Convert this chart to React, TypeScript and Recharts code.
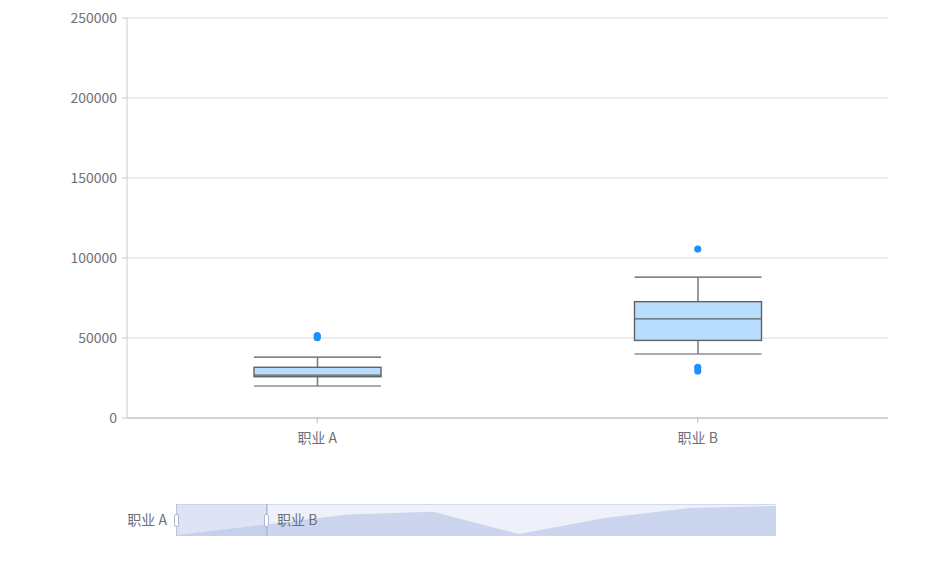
import React from "react"
import {
  Area,
  AreaChart,
  Bar,
  CartesianGrid,
  ComposedChart,
  ReferenceArea,
  ReferenceLine,
  Scatter,
  XAxis,
  YAxis,
} from "recharts"

const categories = ["职业 A", "职业 B"]
const lowWhisker = [20000, 40000]
const lowerQuartile = [25800, 48500]
const medians = [26800, 62000]
const upperQuartile = [31700, 72700]
const highWhisker = [38000, 88000]

const outlierCategory = ["职业 A", "职业 A", "职业 B", "职业 B", "职业 B"]
const outlierValues = [51500, 50200, 105600, 31700, 29400]

const yTicks = [0, 50000, 100000, 150000, 200000, 250000]

// dataZoom shadow + selected window (index units)
const shadowValues = [1, 11, 21.5, 24.3, 2, 18, 28, 30]
const zoomWindow = [0, 1.06]

const boxData = categories.map((name, i) => ({
  name,
  low: lowWhisker[i],
  q1: lowerQuartile[i],
  median: medians[i],
  q3: upperQuartile[i],
  high: highWhisker[i],
}))

const outlierData = outlierCategory.map((name, i) => ({ name, value: outlierValues[i] }))

const shadowData = shadowValues.map((v, i) => ({ i, v }))

const textColor = "#6e7079"
const font = "'Noto Sans CJK SC', 'Noto Sans', sans-serif"

function BoxShape(props: any) {
  const { x, y, width, height, payload } = props
  if (!payload) return null
  const top = Math.min(y, y + height)
  const h = Math.abs(height)
  const ratio = h / (payload.q3 - payload.q1)
  const toY = (v: number) => top + (payload.q3 - v) * ratio
  const cx = x + width / 2
  const stroke = "#595959"
  return (
    <g>
      <line x1={x} x2={x + width} y1={toY(payload.high)} y2={toY(payload.high)} stroke={stroke} strokeWidth={1.2} />
      <line x1={x} x2={x + width} y1={toY(payload.low)} y2={toY(payload.low)} stroke={stroke} strokeWidth={1.2} />
      <line x1={cx} x2={cx} y1={toY(payload.high)} y2={top} stroke="#7a7a7a" strokeWidth={1.5} />
      <line x1={cx} x2={cx} y1={top + h} y2={toY(payload.low)} stroke="#7a7a7a" strokeWidth={1.5} />
      <rect x={x} y={top} width={width} height={h} fill="#b8ddff" stroke="#616161" strokeWidth={1.4} />
      <line x1={x} x2={x + width} y1={toY(payload.median)} y2={toY(payload.median)} stroke="#616161" strokeWidth={1.2} />
    </g>
  )
}

export default function App() {
  return (
    <div style={{ position: "absolute", left: 0, top: 0, width: 951, height: 576, fontFamily: font }}>
      <ComposedChart width={951} height={460} data={boxData} margin={{ top: 18, right: 63, bottom: 12, left: 0 }}>
        <CartesianGrid vertical={false} stroke="#dcdcdc" />
        <XAxis
          dataKey="name"
          allowDuplicatedCategory={false}
          height={30}
          tickSize={5}
          tickMargin={10}
          stroke="#b8b8b8"
          tick={{ fill: textColor, fontSize: 14, fontFamily: font }}
        />
        <YAxis
          width={127}
          domain={[0, 250000]}
          ticks={yTicks}
          tickSize={5}
          tickMargin={5}
          stroke="#cccccc"
          tick={{ fill: textColor, fontSize: 14, fontFamily: font }}
        />
        <Bar dataKey={(d: any) => [d.q1, d.q3]} barSize={127} shape={<BoxShape />} isAnimationActive={false} />
        <Scatter
          data={outlierData}
          dataKey="value"
          fill="#1f8fff"
          shape={(p: any) => <circle cx={p.cx} cy={p.cy} r={3.6} fill="#1f8fff" />}
          isAnimationActive={false}
        />
      </ComposedChart>

      {/* data zoom slider */}
      <div
        style={{
          position: "absolute",
          left: 176,
          top: 504,
          width: 600,
          height: 32,
          background: "#eef1f9",
          borderTop: "1px solid #d2dbee",
          boxSizing: "border-box",
        }}
      />
      <div style={{ position: "absolute", left: 176, top: 504 }}>
        <AreaChart width={600} height={32} data={shadowData} margin={{ top: 0, right: 0, bottom: 0, left: 0 }}>
          <XAxis dataKey="i" type="number" domain={[0, 7]} hide />
          <YAxis domain={[0, 32]} hide />
          <Area type="linear" dataKey="v" stroke="none" fill="#cbd5ed" fillOpacity={1} isAnimationActive={false} />
          <ReferenceArea x1={zoomWindow[0]} x2={zoomWindow[1]} y1={0} y2={32} fill="#b9c8ea" fillOpacity={0.3} stroke="none" />
          <ReferenceLine x={zoomWindow[0]} stroke="#acb8d6" strokeWidth={1.5} />
          <ReferenceLine x={zoomWindow[1]} stroke="#acb8d6" strokeWidth={1.5} />
        </AreaChart>
      </div>
      {[176.7, 266.7].map((hx) => (
        <div
          key={hx}
          style={{
            position: "absolute",
            left: hx - 2.5,
            top: 514,
            width: 3,
            height: 11,
            background: "#fff",
            border: "1px solid #acb8d1",
            borderRadius: 2,
          }}
        />
      ))}
      <div style={{ position: "absolute", right: 951 - 167, top: 509, fontSize: 14, lineHeight: "20px", color: textColor, whiteSpace: "nowrap" }}>
        {categories[0]}
      </div>
      <div style={{ position: "absolute", left: 277, top: 509, fontSize: 14, lineHeight: "20px", color: textColor, whiteSpace: "nowrap" }}>
        {categories[1]}
      </div>
    </div>
  )
}
